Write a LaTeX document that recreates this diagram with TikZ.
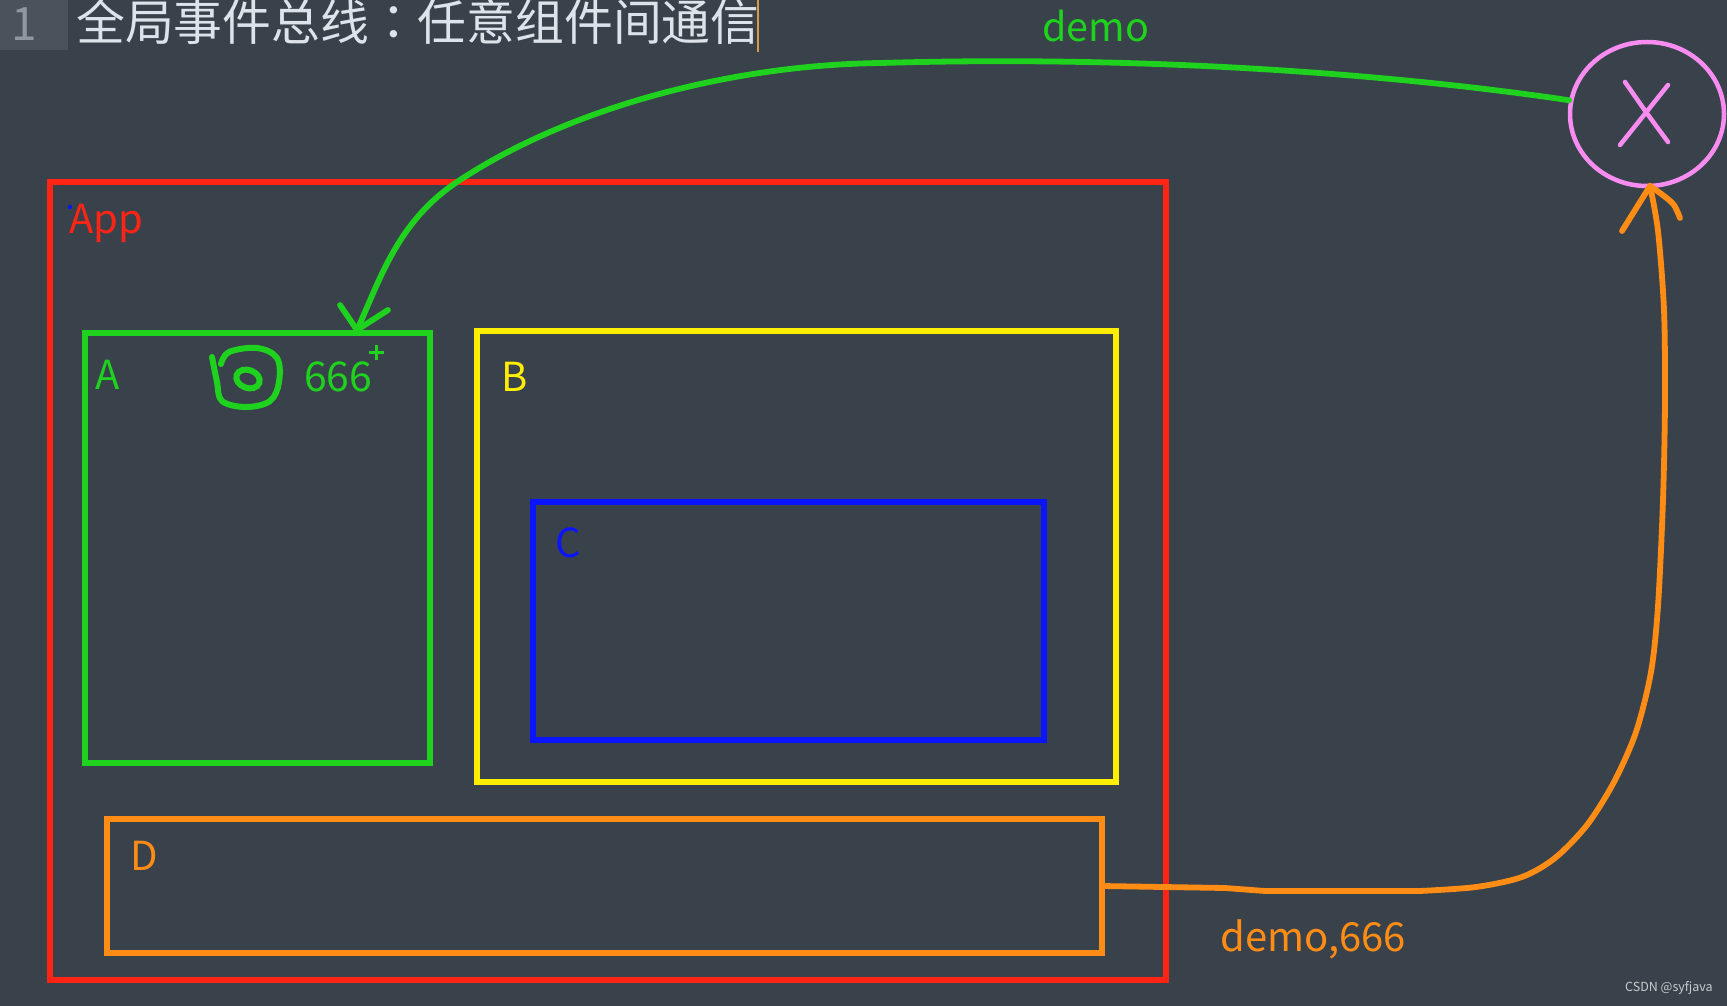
\documentclass[tikz,border=0pt]{standalone}
\usepackage{fontspec}
\setmainfont{Noto Sans CJK SC}
\newfontfamily\tcfont{Noto Sans CJK TC}
\usetikzlibrary{shapes.geometric}
\definecolor{bg}{HTML}{39424B}
\definecolor{numbox}{HTML}{4A535C}
\definecolor{numtxt}{HTML}{8F98A0}
\definecolor{titletxt}{HTML}{DDE3EA}
\definecolor{cursor}{HTML}{D99A4A}
\definecolor{cred}{HTML}{FF2414}
\definecolor{cgreen}{HTML}{1ED21E}
\definecolor{cyellow}{HTML}{FFEE00}
\definecolor{cblue}{HTML}{0A14FF}
\definecolor{corange}{HTML}{FF8C14}
\definecolor{cpink}{HTML}{F88CF0}
\definecolor{wm}{HTML}{C8CCD0}
\tikzset{
  boxnode/.style={draw,anchor=north west,inner sep=0pt,outer sep=0pt,line width=5.5pt},
  lbl/.style={inner sep=0pt,anchor=base west,font=\fontsize{40}{48}\selectfont},
  stroke/.style={line width=5.8pt,line cap=round,line join=round}
}
\begin{document}
\begin{tikzpicture}[x=1pt,y=-1pt]
\useasboundingbox (0,0) rectangle (1727,1006);
\fill[bg] (0,0) rectangle (1727,1006);
% title bar
\fill[numbox] (0,0) rectangle (68,50);
\node[inner sep=0pt,text=numtxt,font=\fontsize{46}{50}\selectfont] (num) at (24,24) {1};
\node[inner sep=0pt,anchor=west,text=titletxt,font=\fontsize{48.8}{52}\selectfont] (title) at (76,22) {全局事件总线{\tcfont ：}任意组件间通信};
\draw[cursor,line width=2pt] (758,0) -- (758,52);
% boxes
\node[boxnode,cred,line width=6pt,minimum width=1116pt,minimum height=798pt] (App) at (50,182) {};
\node[boxnode,cgreen,minimum width=345pt,minimum height=430pt] (Abox) at (85,333) {};
\node[boxnode,cyellow,minimum width=639pt,minimum height=451pt] (Bbox) at (477,331) {};
\node[boxnode,cblue,line width=6pt,minimum width=511pt,minimum height=238pt] (Cbox) at (533,502) {};
\node[boxnode,corange,minimum width=995pt,minimum height=134pt] (Dbox) at (107,819) {};
% labels
\node[lbl,text=cred] (lApp) at (69,233) {App};
\fill[cblue] (70,207) circle (2.2pt);
\node[lbl,text=cgreen] (lA) at (95,389) {A};
\node[lbl,text=cgreen,font=\fontsize{41}{48}\selectfont] (l666) at (304,391) {666};
\draw[cgreen,line width=3pt] (369,352) -- (384,352) (376.5,344.5) -- (376.5,359.5);
\node[lbl,text=cyellow] (lB) at (501,391) {B};
\node[lbl,text=cblue] (lC) at (555,557) {C};
\node[lbl,text=corange] (lD) at (130,870) {D};
\node[lbl,text=cgreen,font=\fontsize{39.5}{46}\selectfont] (ldemo) at (1042,42) {demo};
\node[lbl,text=corange] (ldemo666) at (1220,951) {demo,666};
\node[inner sep=0pt,anchor=west,text=wm,font=\fontsize{12.5}{15}\selectfont] (wmark) at (1625,988) {CSDN @syfjava};
% green scribble
\draw[cgreen,line width=6pt,line cap=round,line join=round] plot[smooth,tension=0.6] coordinates {(212,357) (217,382) (222,401) (246,407) (270,401) (279,382) (277,358) (257,348) (229,352) (221,364)};
\draw[cgreen,line width=6pt,rotate around={-20:(248,379)}] (248,379) ellipse (12pt and 9pt);
% event bus
\node[draw=cpink,line width=4.5pt,ellipse,minimum width=154pt,minimum height=144pt,inner sep=0pt] (bus) at (1647,114) {};
\draw[cpink,line width=4.5pt,line cap=round] plot[smooth] coordinates {(1625,82) (1646,112) (1668,142)};
\draw[cpink,line width=4.5pt,line cap=round] plot[smooth] coordinates {(1668,85) (1644,115) (1620,145)};
% green connector bus -> A
\coordinate (tipA) at (357,330);
\coordinate (gmid) at (881,63);
\coordinate (gcross) at (457,182);
\draw[cgreen,stroke] (bus.170) .. controls (1400,75) and (1150,55) .. (gmid)
  .. controls (720,65) and (560,113) .. (gcross)
  .. controls (397,222) and (380,280) .. (tipA);
\draw[cgreen,stroke] (340,305) -- (tipA) -- (388,310);
% orange connector D -> bus
\coordinate (tipBus) at (1650,186);
\draw[corange,stroke] (Dbox.east) -- (1225,888) -- (1265,891) -- (1420,891)
  plot[smooth,tension=0.5] coordinates {(1420,891) (1476,887) (1522,877) (1555,858) (1587,825) (1614,782) (1636,732) (1651,672) (1658,606) (1663,500) (1665,400) (1664,310) (1658,231) (tipBus)};
\draw[corange,stroke] (1622,231) -- (tipBus);
\draw[corange,stroke] plot[smooth] coordinates {(tipBus) (1664,196) (1674,205) (1680,218)};
\end{tikzpicture}
\end{document}
